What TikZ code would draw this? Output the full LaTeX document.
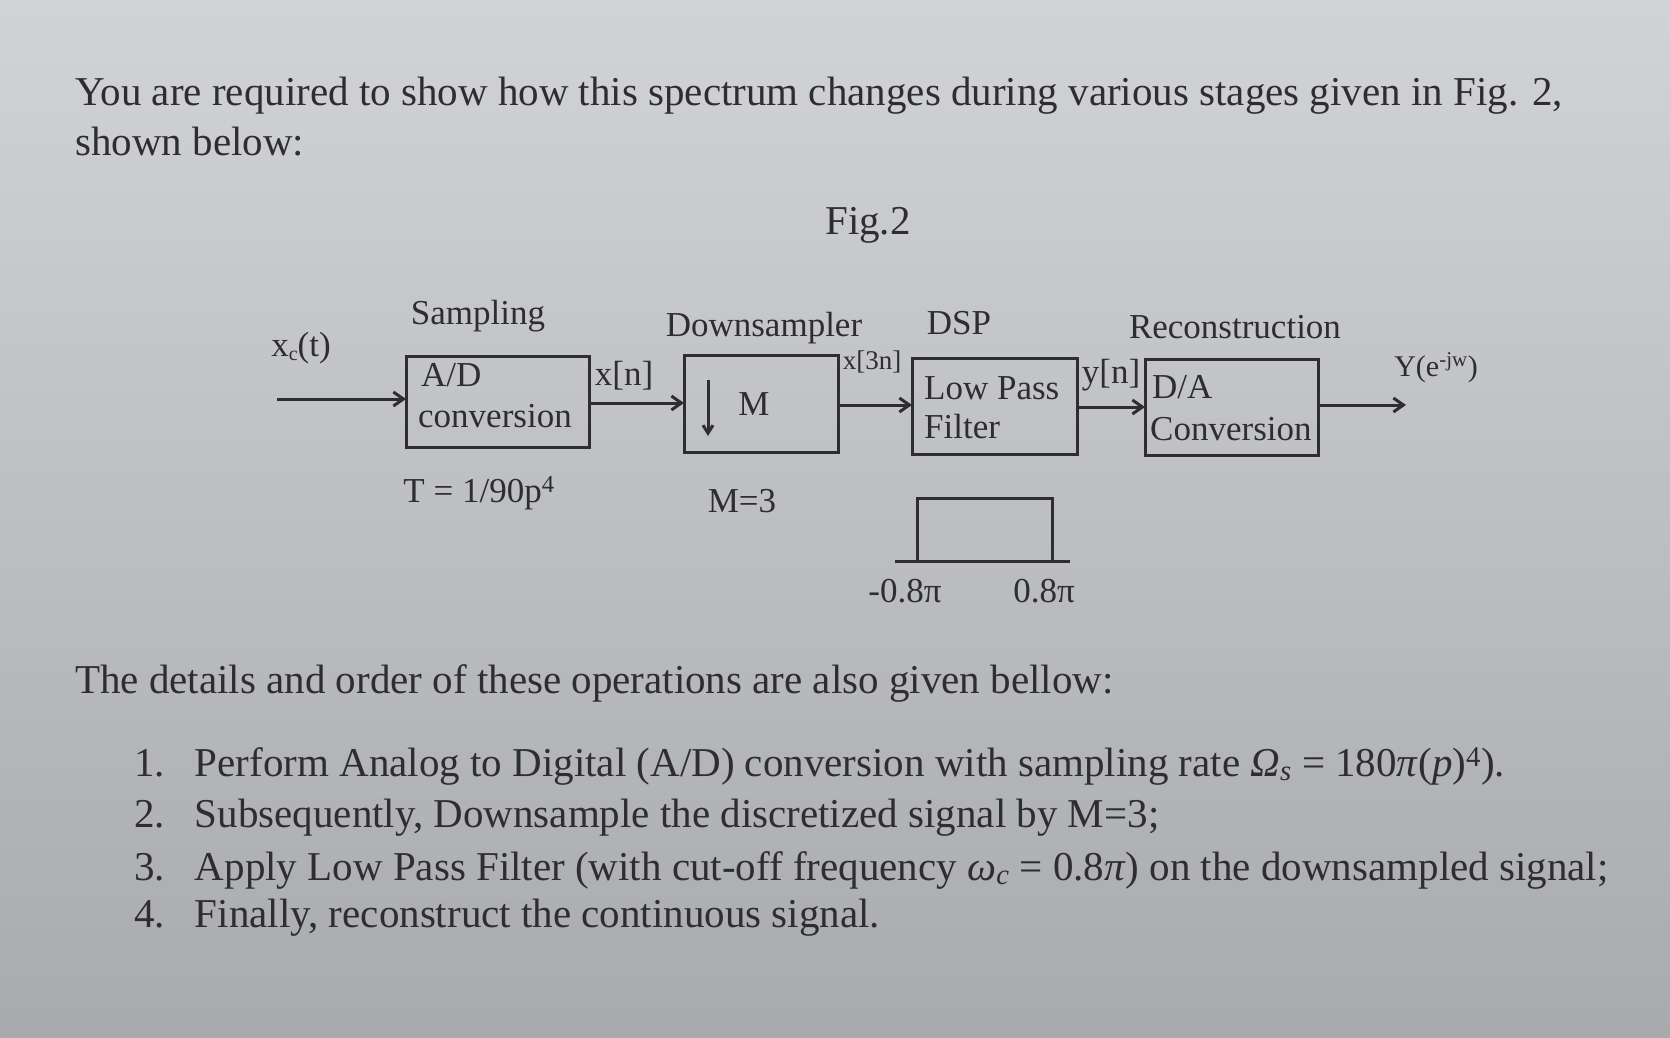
\documentclass[tikz,border=0pt]{standalone}
\usepackage{fontspec}
\setmainfont{Liberation Serif}
\usetikzlibrary{arrows.meta}
\definecolor{ink}{HTML}{2E2E30}
\definecolor{bgtop}{HTML}{D2D3D6}
\definecolor{bgbot}{HTML}{A9AAAD}
\begin{document}
\begin{tikzpicture}[x=1pt,y=-1pt,
  txt/.style={text=ink,inner sep=0pt,anchor=base},
  big/.style={txt,font=\fontsize{41}{46}\selectfont},
  lab/.style={txt,font=\fontsize{35}{40}\selectfont},
  blk/.style={draw=ink,line width=3pt},
  arr/.style={draw=ink,line width=3pt,-{Straight Barb[length=10pt,width=14pt]}}]
\useasboundingbox (0,0) rectangle (1670,1038);
\shade[top color=bgtop,bottom color=bgbot] (0,0) rectangle (1670,1038);
% header
\node[big,anchor=base west] (t1) at (75,106) {You are required to show how this spectrum changes during various stages given in Fig. 2,};
\node[big,anchor=base west] (t2) at (75,155) {shown below:};
\node[big] (fig) at (868,234) {Fig.2};
% blocks
\draw[blk] (406,356) rectangle (589,447);
\draw[blk] (684,355) rectangle (838,452);
\draw[blk] (912,358) rectangle (1077,454);
\draw[blk] (1145,359) rectangle (1318,455);
\coordinate (in) at (277,399);
\coordinate (out) at (1406,405);
\draw[arr] (in) -- (406,399);
\draw[arr] (589,403) -- (684,403);
\draw[arr] (838,405) -- (912,405);
\draw[arr] (1077,407) -- (1145,407);
\draw[arr] (1318,405) -- (out);
% labels
\node[lab] (s) at (478,324) {Sampling};
\node[lab] (d) at (764,336) {Downsampler};
\node[lab] (dsp) at (959,334) {DSP};
\node[lab] (r) at (1235,338) {Reconstruction};
\node[lab] (xc) at (301,356) {x\raisebox{-4pt}{\fontsize{20}{22}\selectfont c}(t)};
\node[lab,font=\fontsize{30}{34}\selectfont] (Y) at (1436,376) {Y(e\textsuperscript{-jw})};
\node[lab] (xn) at (624,385) {x[n]};
\node[lab,font=\fontsize{27}{30}\selectfont] (x3n) at (872,369) {x[3n]};
\node[lab] (yn) at (1111,383) {y[n]};
\node[lab,anchor=base west] (ad1) at (421,386) {A/D};
\node[lab,anchor=base west] (ad2) at (418,427) {conversion};
\draw[ink,line width=3pt,-{Straight Barb[length=8pt,width=10pt]}] (708,380) -- (708,436);
\node[lab] (M) at (754,415) {M};
\node[lab,anchor=base west] (lp1) at (924,399) {Low Pass};
\node[lab,anchor=base west] (lp2) at (924,438) {Filter};
\node[lab,anchor=base west] (da1) at (1152,398) {D/A};
\node[lab,anchor=base west] (da2) at (1150,440) {Conversion};
\node[lab] (T) at (479,502) {T = 1/90p\textsuperscript{4}};
\node[lab] (m3) at (742,512) {M=3};
\draw[ink,line width=3pt] (917,561) -- (917,498) -- (1052,498) -- (1052,561);
\draw[ink,line width=3pt] (895,561) -- (1070,561);
\node[lab] (lo) at (905,602) {-0.8π};
\node[lab] (hi) at (1044,602) {0.8π};
% footer
\node[big,anchor=base west] (t3) at (75,693) {The details and order of these operations are also given bellow:};
\node[big,anchor=base west] (n1) at (134,776) {1.\hspace{30pt}Perform Analog to Digital (A/D) conversion with sampling rate \textit{Ω\textsubscript{s}} = 180\textit{π}(\textit{p})\textsuperscript{4}).};
\node[big,anchor=base west] (n2) at (134,827) {2.\hspace{30pt}Subsequently, Downsample the discretized signal by M=3;};
\node[big,anchor=base west] (n3) at (134,880) {3.\hspace{30pt}Apply Low Pass Filter (with cut-off frequency \textit{ω\textsubscript{c}} = 0.8\textit{π}) on the downsampled signal;};
\node[big,anchor=base west] (n4) at (134,927) {4.\hspace{30pt}Finally, reconstruct the continuous signal.};
\end{tikzpicture}
\end{document}
